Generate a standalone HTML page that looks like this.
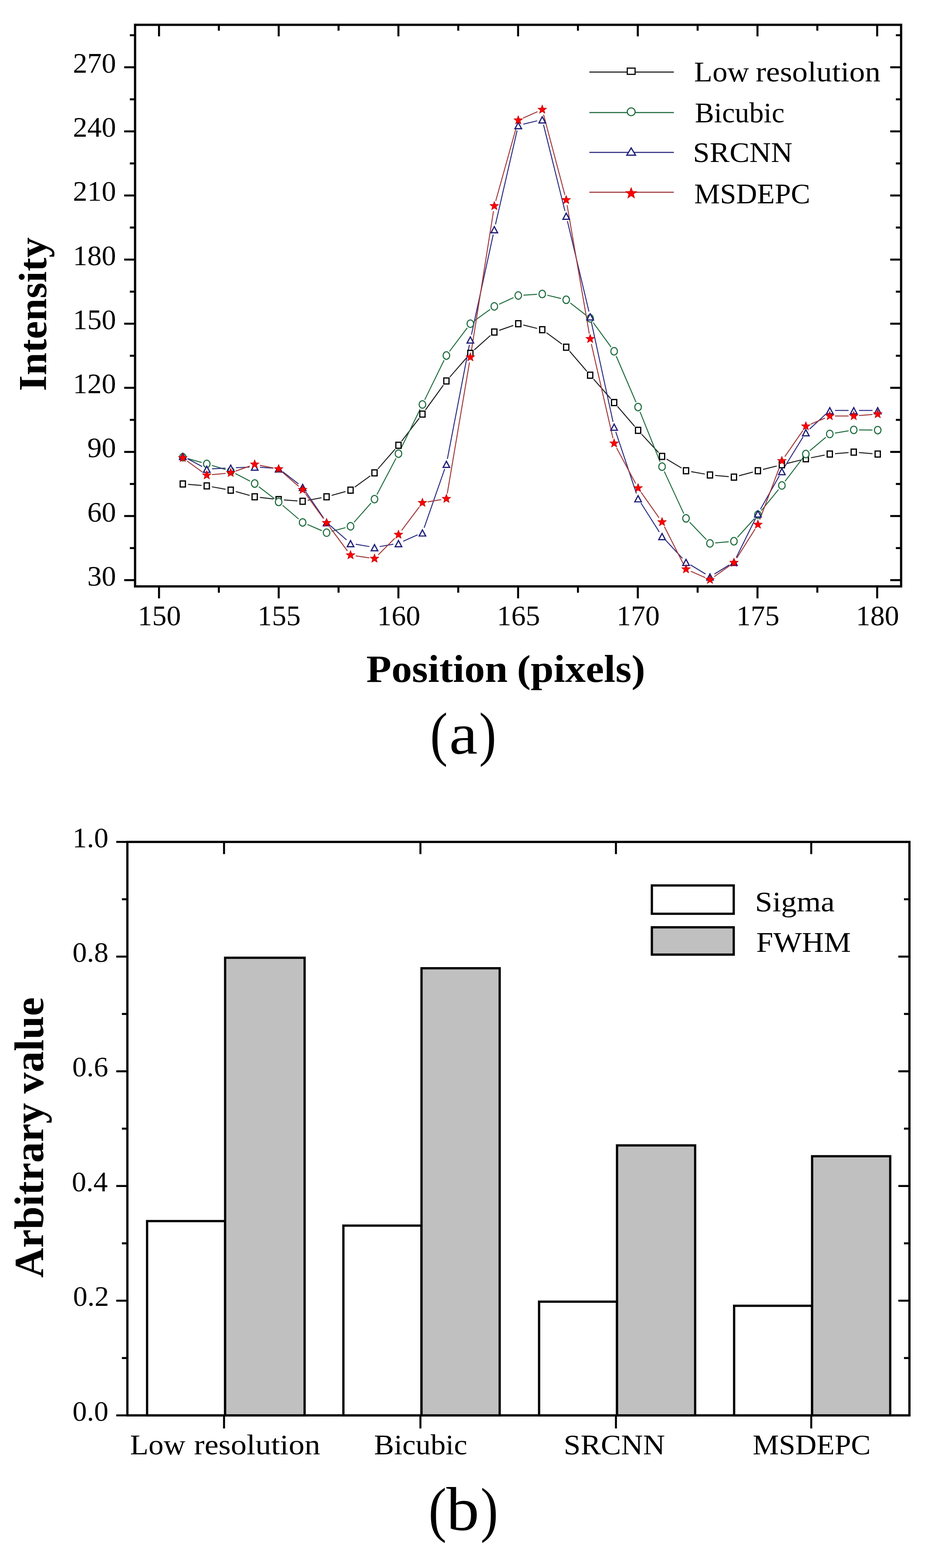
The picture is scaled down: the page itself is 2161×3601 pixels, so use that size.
<!DOCTYPE html>
<html><head><meta charset="utf-8"><title>Figure</title>
<style>html,body{margin:0;padding:0;background:#fff;}svg{display:block;}</style>
</head><body>
<svg width="2161" height="3601" viewBox="0 0 2161 3601">
<rect width="2161" height="3601" fill="#fff"/>
<g fill="none" stroke="#000">
<rect x="310.20" y="57.00" width="1759.20" height="1289.70" stroke-width="5.20" stroke-linejoin="miter"/>
</g>
<line x1="365.18" y1="1346.70" x2="365.18" y2="1374.20" stroke="#000" stroke-width="4.60"/>
<line x1="365.18" y1="57.00" x2="365.18" y2="83.50" stroke="#000" stroke-width="4.60"/>
<line x1="502.61" y1="1346.70" x2="502.61" y2="1361.20" stroke="#000" stroke-width="4.60"/>
<line x1="502.61" y1="57.00" x2="502.61" y2="70.50" stroke="#000" stroke-width="4.60"/>
<line x1="640.05" y1="1346.70" x2="640.05" y2="1374.20" stroke="#000" stroke-width="4.60"/>
<line x1="640.05" y1="57.00" x2="640.05" y2="83.50" stroke="#000" stroke-width="4.60"/>
<line x1="777.49" y1="1346.70" x2="777.49" y2="1361.20" stroke="#000" stroke-width="4.60"/>
<line x1="777.49" y1="57.00" x2="777.49" y2="70.50" stroke="#000" stroke-width="4.60"/>
<line x1="914.92" y1="1346.70" x2="914.92" y2="1374.20" stroke="#000" stroke-width="4.60"/>
<line x1="914.92" y1="57.00" x2="914.92" y2="83.50" stroke="#000" stroke-width="4.60"/>
<line x1="1052.36" y1="1346.70" x2="1052.36" y2="1361.20" stroke="#000" stroke-width="4.60"/>
<line x1="1052.36" y1="57.00" x2="1052.36" y2="70.50" stroke="#000" stroke-width="4.60"/>
<line x1="1189.80" y1="1346.70" x2="1189.80" y2="1374.20" stroke="#000" stroke-width="4.60"/>
<line x1="1189.80" y1="57.00" x2="1189.80" y2="83.50" stroke="#000" stroke-width="4.60"/>
<line x1="1327.24" y1="1346.70" x2="1327.24" y2="1361.20" stroke="#000" stroke-width="4.60"/>
<line x1="1327.24" y1="57.00" x2="1327.24" y2="70.50" stroke="#000" stroke-width="4.60"/>
<line x1="1464.68" y1="1346.70" x2="1464.68" y2="1374.20" stroke="#000" stroke-width="4.60"/>
<line x1="1464.68" y1="57.00" x2="1464.68" y2="83.50" stroke="#000" stroke-width="4.60"/>
<line x1="1602.11" y1="1346.70" x2="1602.11" y2="1361.20" stroke="#000" stroke-width="4.60"/>
<line x1="1602.11" y1="57.00" x2="1602.11" y2="70.50" stroke="#000" stroke-width="4.60"/>
<line x1="1739.55" y1="1346.70" x2="1739.55" y2="1374.20" stroke="#000" stroke-width="4.60"/>
<line x1="1739.55" y1="57.00" x2="1739.55" y2="83.50" stroke="#000" stroke-width="4.60"/>
<line x1="1876.99" y1="1346.70" x2="1876.99" y2="1361.20" stroke="#000" stroke-width="4.60"/>
<line x1="1876.99" y1="57.00" x2="1876.99" y2="70.50" stroke="#000" stroke-width="4.60"/>
<line x1="2014.43" y1="1346.70" x2="2014.43" y2="1374.20" stroke="#000" stroke-width="4.60"/>
<line x1="2014.43" y1="57.00" x2="2014.43" y2="83.50" stroke="#000" stroke-width="4.60"/>
<line x1="310.20" y1="1332.30" x2="285.20" y2="1332.30" stroke="#000" stroke-width="4.60"/>
<line x1="2069.40" y1="1332.30" x2="2044.40" y2="1332.30" stroke="#000" stroke-width="4.60"/>
<line x1="310.20" y1="1258.69" x2="298.20" y2="1258.69" stroke="#000" stroke-width="4.60"/>
<line x1="2069.40" y1="1258.69" x2="2057.40" y2="1258.69" stroke="#000" stroke-width="4.60"/>
<line x1="310.20" y1="1185.08" x2="285.20" y2="1185.08" stroke="#000" stroke-width="4.60"/>
<line x1="2069.40" y1="1185.08" x2="2044.40" y2="1185.08" stroke="#000" stroke-width="4.60"/>
<line x1="310.20" y1="1111.46" x2="298.20" y2="1111.46" stroke="#000" stroke-width="4.60"/>
<line x1="2069.40" y1="1111.46" x2="2057.40" y2="1111.46" stroke="#000" stroke-width="4.60"/>
<line x1="310.20" y1="1037.85" x2="285.20" y2="1037.85" stroke="#000" stroke-width="4.60"/>
<line x1="2069.40" y1="1037.85" x2="2044.40" y2="1037.85" stroke="#000" stroke-width="4.60"/>
<line x1="310.20" y1="964.24" x2="298.20" y2="964.24" stroke="#000" stroke-width="4.60"/>
<line x1="2069.40" y1="964.24" x2="2057.40" y2="964.24" stroke="#000" stroke-width="4.60"/>
<line x1="310.20" y1="890.62" x2="285.20" y2="890.62" stroke="#000" stroke-width="4.60"/>
<line x1="2069.40" y1="890.62" x2="2044.40" y2="890.62" stroke="#000" stroke-width="4.60"/>
<line x1="310.20" y1="817.01" x2="298.20" y2="817.01" stroke="#000" stroke-width="4.60"/>
<line x1="2069.40" y1="817.01" x2="2057.40" y2="817.01" stroke="#000" stroke-width="4.60"/>
<line x1="310.20" y1="743.40" x2="285.20" y2="743.40" stroke="#000" stroke-width="4.60"/>
<line x1="2069.40" y1="743.40" x2="2044.40" y2="743.40" stroke="#000" stroke-width="4.60"/>
<line x1="310.20" y1="669.79" x2="298.20" y2="669.79" stroke="#000" stroke-width="4.60"/>
<line x1="2069.40" y1="669.79" x2="2057.40" y2="669.79" stroke="#000" stroke-width="4.60"/>
<line x1="310.20" y1="596.17" x2="285.20" y2="596.17" stroke="#000" stroke-width="4.60"/>
<line x1="2069.40" y1="596.17" x2="2044.40" y2="596.17" stroke="#000" stroke-width="4.60"/>
<line x1="310.20" y1="522.56" x2="298.20" y2="522.56" stroke="#000" stroke-width="4.60"/>
<line x1="2069.40" y1="522.56" x2="2057.40" y2="522.56" stroke="#000" stroke-width="4.60"/>
<line x1="310.20" y1="448.95" x2="285.20" y2="448.95" stroke="#000" stroke-width="4.60"/>
<line x1="2069.40" y1="448.95" x2="2044.40" y2="448.95" stroke="#000" stroke-width="4.60"/>
<line x1="310.20" y1="375.34" x2="298.20" y2="375.34" stroke="#000" stroke-width="4.60"/>
<line x1="2069.40" y1="375.34" x2="2057.40" y2="375.34" stroke="#000" stroke-width="4.60"/>
<line x1="310.20" y1="301.73" x2="285.20" y2="301.73" stroke="#000" stroke-width="4.60"/>
<line x1="2069.40" y1="301.73" x2="2044.40" y2="301.73" stroke="#000" stroke-width="4.60"/>
<line x1="310.20" y1="228.11" x2="298.20" y2="228.11" stroke="#000" stroke-width="4.60"/>
<line x1="2069.40" y1="228.11" x2="2057.40" y2="228.11" stroke="#000" stroke-width="4.60"/>
<line x1="310.20" y1="154.50" x2="285.20" y2="154.50" stroke="#000" stroke-width="4.60"/>
<line x1="2069.40" y1="154.50" x2="2044.40" y2="154.50" stroke="#000" stroke-width="4.60"/>
<line x1="310.20" y1="80.89" x2="298.20" y2="80.89" stroke="#000" stroke-width="4.60"/>
<line x1="2069.40" y1="80.89" x2="2057.40" y2="80.89" stroke="#000" stroke-width="4.60"/>
<g font-family='"Liberation Serif", "Times New Roman", serif'>
<g>
<text x="200.51" y="1344.80" font-size="66.00" fill="#000">30</text>
<text x="200.51" y="1197.58" font-size="66.00" fill="#000">60</text>
<text x="200.51" y="1050.35" font-size="66.00" fill="#000">90</text>
<text x="167.51" y="903.12" font-size="66.00" fill="#000">120</text>
<text x="167.51" y="755.90" font-size="66.00" fill="#000">150</text>
<text x="167.51" y="608.67" font-size="66.00" fill="#000">180</text>
<text x="167.51" y="461.45" font-size="66.00" fill="#000">210</text>
<text x="167.51" y="314.23" font-size="66.00" fill="#000">240</text>
<text x="167.51" y="167.00" font-size="66.00" fill="#000">270</text>
<text x="316.53" y="1435.60" font-size="66.00" fill="#000">150</text>
<text x="591.44" y="1435.60" font-size="66.00" fill="#000">155</text>
<text x="866.28" y="1435.60" font-size="66.00" fill="#000">160</text>
<text x="1141.19" y="1435.60" font-size="66.00" fill="#000">165</text>
<text x="1416.03" y="1435.60" font-size="66.00" fill="#000">170</text>
<text x="1690.94" y="1435.60" font-size="66.00" fill="#000">175</text>
<text x="1965.78" y="1435.60" font-size="66.00" fill="#000">180</text>
</g>
<text transform="translate(105.80,895.00) rotate(-90)" x="-3.15" y="0" font-size="90.80" font-weight="bold" textLength="353.06" lengthAdjust="spacingAndGlyphs">Intensity</text>
<text x="841.39" y="1565.70" font-size="88.60" font-weight="bold" textLength="324.64" lengthAdjust="spacingAndGlyphs" fill="#000">Position</text>
<text x="1187.34" y="1565.70" font-size="88.60" font-weight="bold" textLength="294.42" lengthAdjust="spacingAndGlyphs" fill="#000">(pixels)</text>
<text x="987.68" y="1732.03" font-size="138.41" textLength="40.32" lengthAdjust="spacingAndGlyphs">(</text>
<text x="1031.63" y="1730.70" font-size="133.61" textLength="65.28" lengthAdjust="spacingAndGlyphs">a</text>
<text x="1100.29" y="1732.03" font-size="138.41" textLength="39.42" lengthAdjust="spacingAndGlyphs">)</text>
</g>
<path d="M431.76 1112.42L462.87 1114.92M486.64 1117.99L518.05 1123.59M541.43 1128.89L573.32 1137.71M596.81 1142.29L628.00 1145.91M651.89 1148.14L682.98 1150.36M706.74 1149.00L738.19 1143.12M761.55 1137.71L793.44 1128.89M814.74 1118.67L850.31 1092.97M867.91 1076.89L907.20 1031.69M922.38 1013.12L962.79 960.50M977.13 941.26L1018.10 884.64M1033.00 865.86L1072.29 820.67M1089.12 803.63L1126.23 770.53M1146.52 758.60L1178.89 747.34M1201.86 746.31L1233.61 754.23M1254.94 764.22L1290.59 790.30M1308.08 806.50L1347.51 852.55M1363.22 870.70L1402.43 915.46M1418.18 933.57L1457.53 979.20M1473.49 997.12L1512.28 1039.32M1530.70 1054.31L1565.13 1074.88M1587.24 1083.14L1618.65 1088.74M1642.41 1091.92L1673.54 1094.69M1697.08 1092.66L1728.93 1084.14M1752.16 1078.13L1783.91 1070.20M1807.19 1064.39L1838.94 1056.46M1862.36 1051.24L1893.83 1045.07M1917.57 1041.80L1948.68 1039.30M1972.60 1039.30L2003.71 1041.80" fill="none" stroke="#1a1a1a" stroke-width="2.20" stroke-linecap="butt"/>
<path d="M431.37 1053.32L463.26 1062.13M486.31 1068.81L518.38 1078.54M540.52 1087.53L574.23 1104.97M594.41 1117.78L630.40 1145.38M649.04 1160.49L685.83 1191.99M705.98 1204.52L738.95 1218.63M761.57 1220.25L793.42 1211.73M812.95 1199.64L852.10 1155.30M865.63 1135.69L909.48 1052.39M920.33 1030.99L964.84 939.69M975.38 918.13L1019.85 827.30M1032.35 806.93L1072.94 752.99M1089.89 736.37L1125.46 710.68M1146.11 698.68L1179.30 683.59M1202.20 677.87L1233.27 675.93M1256.92 677.99L1288.61 685.63M1309.76 695.79L1345.83 723.78M1362.37 740.83L1403.28 797.01M1415.08 817.73L1460.63 923.77M1469.85 945.93L1515.92 1060.58M1525.45 1082.60L1570.38 1179.59M1583.73 1199.14L1622.16 1239.23M1642.41 1246.83L1673.54 1244.05M1693.54 1234.08L1732.47 1191.03M1748.12 1172.84L1787.95 1124.18M1802.83 1105.36L1843.30 1052.30M1859.78 1035.05L1896.41 1004.34M1917.44 994.62L1948.81 989.31M1972.64 987.41L2003.67 987.69" fill="none" stroke="#1d6b3c" stroke-width="2.20" stroke-linecap="butt"/>
<path d="M430.38 1053.33L464.25 1071.45M486.82 1076.58L517.87 1075.19M541.85 1074.12L572.90 1072.74M596.86 1073.06L627.95 1075.27M649.40 1083.48L685.47 1111.47M701.70 1128.75L743.23 1189.87M759.02 1207.69L795.97 1239.99M816.84 1249.90L848.21 1255.21M871.87 1255.21L903.24 1249.90M926.03 1243.00L959.14 1228.24M974.06 1212.02L1021.17 1077.15M1027.40 1054.04L1077.89 791.99M1082.71 768.48L1132.64 538.71M1137.88 515.29L1187.53 299.68M1201.89 285.17L1233.58 277.54M1248.15 286.38L1297.38 484.42M1303.06 507.74L1352.53 715.53M1357.86 738.93L1407.79 968.71M1414.15 991.81L1461.56 1133.45M1471.79 1154.97L1513.98 1221.56M1528.56 1240.50L1567.27 1282.28M1585.69 1297.30L1620.20 1318.23M1640.72 1318.23L1675.23 1297.30M1690.80 1280.32L1735.21 1190.44M1746.43 1169.24L1789.64 1092.95M1801.84 1072.29L1844.29 1003.41M1859.42 985.07L1896.77 950.76M1917.61 942.64L1948.64 942.64M1972.64 942.64L2003.67 942.64" fill="none" stroke="#2a2a80" stroke-width="2.20" stroke-linecap="butt"/>
<path d="M429.53 1058.62L465.10 1084.32M486.77 1090.17L517.92 1087.12M541.16 1081.91L573.59 1070.35M596.67 1068.62L628.14 1074.80M649.00 1084.96L685.87 1116.86M701.98 1134.44L742.95 1191.06M757.13 1210.41L797.86 1265.25M816.89 1276.58L848.16 1281.04M868.53 1274.25L906.58 1236.25M922.29 1218.18L962.88 1164.24M981.93 1152.64L1013.30 1147.33M1027.13 1133.49L1078.16 832.28M1082.04 808.60L1133.31 484.85M1138.42 461.44L1186.99 287.76M1201.18 271.32L1234.29 256.56M1248.32 263.27L1297.21 447.66M1302.32 471.08L1353.27 766.42M1357.99 789.94L1407.66 1006.52M1416.01 1028.79L1459.70 1110.21M1472.29 1130.59L1513.48 1189.01M1525.83 1209.52L1570.00 1296.57M1586.43 1312.08L1619.46 1326.51M1640.23 1324.35L1675.72 1299.03M1691.89 1281.91L1734.12 1214.86M1744.75 1193.47L1791.32 1069.69M1802.38 1048.59L1843.75 988.83M1861.61 974.24L1894.58 960.13M1917.61 955.40L1948.64 955.40M1972.60 954.44L2003.71 951.95" fill="none" stroke="#a03838" stroke-width="2.20" stroke-linecap="butt"/>
<rect x="413.80" y="1104.56" width="12.00" height="13.80" fill="#fff" stroke="#000000" stroke-width="2.80"/>
<rect x="468.83" y="1108.98" width="12.00" height="13.80" fill="#fff" stroke="#000000" stroke-width="2.80"/>
<rect x="523.86" y="1118.79" width="12.00" height="13.80" fill="#fff" stroke="#000000" stroke-width="2.80"/>
<rect x="578.89" y="1134.01" width="12.00" height="13.80" fill="#fff" stroke="#000000" stroke-width="2.80"/>
<rect x="633.92" y="1140.39" width="12.00" height="13.80" fill="#fff" stroke="#000000" stroke-width="2.80"/>
<rect x="688.95" y="1144.31" width="12.00" height="13.80" fill="#fff" stroke="#000000" stroke-width="2.80"/>
<rect x="743.98" y="1134.01" width="12.00" height="13.80" fill="#fff" stroke="#000000" stroke-width="2.80"/>
<rect x="799.01" y="1118.79" width="12.00" height="13.80" fill="#fff" stroke="#000000" stroke-width="2.80"/>
<rect x="854.04" y="1079.04" width="12.00" height="13.80" fill="#fff" stroke="#000000" stroke-width="2.80"/>
<rect x="909.07" y="1015.74" width="12.00" height="13.80" fill="#fff" stroke="#000000" stroke-width="2.80"/>
<rect x="964.10" y="944.09" width="12.00" height="13.80" fill="#fff" stroke="#000000" stroke-width="2.80"/>
<rect x="1019.13" y="868.02" width="12.00" height="13.80" fill="#fff" stroke="#000000" stroke-width="2.80"/>
<rect x="1074.16" y="804.71" width="12.00" height="13.80" fill="#fff" stroke="#000000" stroke-width="2.80"/>
<rect x="1129.19" y="755.64" width="12.00" height="13.80" fill="#fff" stroke="#000000" stroke-width="2.80"/>
<rect x="1184.22" y="736.50" width="12.00" height="13.80" fill="#fff" stroke="#000000" stroke-width="2.80"/>
<rect x="1239.25" y="750.24" width="12.00" height="13.80" fill="#fff" stroke="#000000" stroke-width="2.80"/>
<rect x="1294.28" y="790.48" width="12.00" height="13.80" fill="#fff" stroke="#000000" stroke-width="2.80"/>
<rect x="1349.31" y="854.77" width="12.00" height="13.80" fill="#fff" stroke="#000000" stroke-width="2.80"/>
<rect x="1404.34" y="917.59" width="12.00" height="13.80" fill="#fff" stroke="#000000" stroke-width="2.80"/>
<rect x="1459.37" y="981.38" width="12.00" height="13.80" fill="#fff" stroke="#000000" stroke-width="2.80"/>
<rect x="1514.40" y="1041.26" width="12.00" height="13.80" fill="#fff" stroke="#000000" stroke-width="2.80"/>
<rect x="1569.43" y="1074.14" width="12.00" height="13.80" fill="#fff" stroke="#000000" stroke-width="2.80"/>
<rect x="1624.46" y="1083.95" width="12.00" height="13.80" fill="#fff" stroke="#000000" stroke-width="2.80"/>
<rect x="1679.49" y="1088.86" width="12.00" height="13.80" fill="#fff" stroke="#000000" stroke-width="2.80"/>
<rect x="1734.52" y="1074.14" width="12.00" height="13.80" fill="#fff" stroke="#000000" stroke-width="2.80"/>
<rect x="1789.55" y="1060.40" width="12.00" height="13.80" fill="#fff" stroke="#000000" stroke-width="2.80"/>
<rect x="1844.58" y="1046.65" width="12.00" height="13.80" fill="#fff" stroke="#000000" stroke-width="2.80"/>
<rect x="1899.61" y="1035.86" width="12.00" height="13.80" fill="#fff" stroke="#000000" stroke-width="2.80"/>
<rect x="1954.64" y="1031.44" width="12.00" height="13.80" fill="#fff" stroke="#000000" stroke-width="2.80"/>
<rect x="2009.67" y="1035.86" width="12.00" height="13.80" fill="#fff" stroke="#000000" stroke-width="2.80"/>
<ellipse cx="419.80" cy="1050.12" rx="7.55" ry="8.65" fill="#fff" stroke="#1d6b3c" stroke-width="2.50"/>
<ellipse cx="474.83" cy="1065.33" rx="7.55" ry="8.65" fill="#fff" stroke="#1d6b3c" stroke-width="2.50"/>
<ellipse cx="529.86" cy="1082.02" rx="7.55" ry="8.65" fill="#fff" stroke="#1d6b3c" stroke-width="2.50"/>
<ellipse cx="584.89" cy="1110.48" rx="7.55" ry="8.65" fill="#fff" stroke="#1d6b3c" stroke-width="2.50"/>
<ellipse cx="639.92" cy="1152.69" rx="7.55" ry="8.65" fill="#fff" stroke="#1d6b3c" stroke-width="2.50"/>
<ellipse cx="694.95" cy="1199.80" rx="7.55" ry="8.65" fill="#fff" stroke="#1d6b3c" stroke-width="2.50"/>
<ellipse cx="749.98" cy="1223.35" rx="7.55" ry="8.65" fill="#fff" stroke="#1d6b3c" stroke-width="2.50"/>
<ellipse cx="805.01" cy="1208.63" rx="7.55" ry="8.65" fill="#fff" stroke="#1d6b3c" stroke-width="2.50"/>
<ellipse cx="860.04" cy="1146.31" rx="7.55" ry="8.65" fill="#fff" stroke="#1d6b3c" stroke-width="2.50"/>
<ellipse cx="915.07" cy="1041.78" rx="7.55" ry="8.65" fill="#fff" stroke="#1d6b3c" stroke-width="2.50"/>
<ellipse cx="970.10" cy="928.90" rx="7.55" ry="8.65" fill="#fff" stroke="#1d6b3c" stroke-width="2.50"/>
<ellipse cx="1025.13" cy="816.52" rx="7.55" ry="8.65" fill="#fff" stroke="#1d6b3c" stroke-width="2.50"/>
<ellipse cx="1080.16" cy="743.40" rx="7.55" ry="8.65" fill="#fff" stroke="#1d6b3c" stroke-width="2.50"/>
<ellipse cx="1135.19" cy="703.65" rx="7.55" ry="8.65" fill="#fff" stroke="#1d6b3c" stroke-width="2.50"/>
<ellipse cx="1190.22" cy="678.62" rx="7.55" ry="8.65" fill="#fff" stroke="#1d6b3c" stroke-width="2.50"/>
<ellipse cx="1245.25" cy="675.19" rx="7.55" ry="8.65" fill="#fff" stroke="#1d6b3c" stroke-width="2.50"/>
<ellipse cx="1300.28" cy="688.44" rx="7.55" ry="8.65" fill="#fff" stroke="#1d6b3c" stroke-width="2.50"/>
<ellipse cx="1355.31" cy="731.13" rx="7.55" ry="8.65" fill="#fff" stroke="#1d6b3c" stroke-width="2.50"/>
<ellipse cx="1410.34" cy="806.71" rx="7.55" ry="8.65" fill="#fff" stroke="#1d6b3c" stroke-width="2.50"/>
<ellipse cx="1465.37" cy="934.79" rx="7.55" ry="8.65" fill="#fff" stroke="#1d6b3c" stroke-width="2.50"/>
<ellipse cx="1520.40" cy="1071.71" rx="7.55" ry="8.65" fill="#fff" stroke="#1d6b3c" stroke-width="2.50"/>
<ellipse cx="1575.43" cy="1190.47" rx="7.55" ry="8.65" fill="#fff" stroke="#1d6b3c" stroke-width="2.50"/>
<ellipse cx="1630.46" cy="1247.89" rx="7.55" ry="8.65" fill="#fff" stroke="#1d6b3c" stroke-width="2.50"/>
<ellipse cx="1685.49" cy="1242.98" rx="7.55" ry="8.65" fill="#fff" stroke="#1d6b3c" stroke-width="2.50"/>
<ellipse cx="1740.52" cy="1182.13" rx="7.55" ry="8.65" fill="#fff" stroke="#1d6b3c" stroke-width="2.50"/>
<ellipse cx="1795.55" cy="1114.90" rx="7.55" ry="8.65" fill="#fff" stroke="#1d6b3c" stroke-width="2.50"/>
<ellipse cx="1850.58" cy="1042.76" rx="7.55" ry="8.65" fill="#fff" stroke="#1d6b3c" stroke-width="2.50"/>
<ellipse cx="1905.61" cy="996.63" rx="7.55" ry="8.65" fill="#fff" stroke="#1d6b3c" stroke-width="2.50"/>
<ellipse cx="1960.64" cy="987.30" rx="7.55" ry="8.65" fill="#fff" stroke="#1d6b3c" stroke-width="2.50"/>
<ellipse cx="2015.67" cy="987.79" rx="7.55" ry="8.65" fill="#fff" stroke="#1d6b3c" stroke-width="2.50"/>
<path d="M419.80 1041.10L427.39 1055.32L412.21 1055.32Z" fill="#fff" stroke="#1c1c78" stroke-width="2.70" stroke-linejoin="miter"/>
<path d="M474.83 1070.54L482.42 1084.76L467.24 1084.76Z" fill="#fff" stroke="#1c1c78" stroke-width="2.70" stroke-linejoin="miter"/>
<path d="M529.86 1068.09L537.45 1082.31L522.27 1082.31Z" fill="#fff" stroke="#1c1c78" stroke-width="2.70" stroke-linejoin="miter"/>
<path d="M584.89 1065.63L592.48 1079.85L577.30 1079.85Z" fill="#fff" stroke="#1c1c78" stroke-width="2.70" stroke-linejoin="miter"/>
<path d="M639.92 1069.56L647.51 1083.78L632.33 1083.78Z" fill="#fff" stroke="#1c1c78" stroke-width="2.70" stroke-linejoin="miter"/>
<path d="M694.95 1112.25L702.54 1126.47L687.36 1126.47Z" fill="#fff" stroke="#1c1c78" stroke-width="2.70" stroke-linejoin="miter"/>
<path d="M749.98 1193.23L757.57 1207.45L742.39 1207.45Z" fill="#fff" stroke="#1c1c78" stroke-width="2.70" stroke-linejoin="miter"/>
<path d="M805.01 1241.32L812.60 1255.54L797.42 1255.54Z" fill="#fff" stroke="#1c1c78" stroke-width="2.70" stroke-linejoin="miter"/>
<path d="M860.04 1250.65L867.63 1264.87L852.45 1264.87Z" fill="#fff" stroke="#1c1c78" stroke-width="2.70" stroke-linejoin="miter"/>
<path d="M915.07 1241.32L922.66 1255.54L907.48 1255.54Z" fill="#fff" stroke="#1c1c78" stroke-width="2.70" stroke-linejoin="miter"/>
<path d="M970.10 1216.78L977.69 1231.00L962.51 1231.00Z" fill="#fff" stroke="#1c1c78" stroke-width="2.70" stroke-linejoin="miter"/>
<path d="M1025.13 1059.25L1032.72 1073.47L1017.54 1073.47Z" fill="#fff" stroke="#1c1c78" stroke-width="2.70" stroke-linejoin="miter"/>
<path d="M1080.16 773.64L1087.75 787.86L1072.57 787.86Z" fill="#fff" stroke="#1c1c78" stroke-width="2.70" stroke-linejoin="miter"/>
<path d="M1135.19 520.41L1142.78 534.63L1127.60 534.63Z" fill="#fff" stroke="#1c1c78" stroke-width="2.70" stroke-linejoin="miter"/>
<path d="M1190.22 281.41L1197.81 295.63L1182.63 295.63Z" fill="#fff" stroke="#1c1c78" stroke-width="2.70" stroke-linejoin="miter"/>
<path d="M1245.25 268.16L1252.84 282.38L1237.66 282.38Z" fill="#fff" stroke="#1c1c78" stroke-width="2.70" stroke-linejoin="miter"/>
<path d="M1300.28 489.49L1307.87 503.71L1292.69 503.71Z" fill="#fff" stroke="#1c1c78" stroke-width="2.70" stroke-linejoin="miter"/>
<path d="M1355.31 720.64L1362.90 734.86L1347.72 734.86Z" fill="#fff" stroke="#1c1c78" stroke-width="2.70" stroke-linejoin="miter"/>
<path d="M1410.34 973.86L1417.93 988.08L1402.75 988.08Z" fill="#fff" stroke="#1c1c78" stroke-width="2.70" stroke-linejoin="miter"/>
<path d="M1465.37 1138.26L1472.96 1152.48L1457.78 1152.48Z" fill="#fff" stroke="#1c1c78" stroke-width="2.70" stroke-linejoin="miter"/>
<path d="M1520.40 1225.13L1527.99 1239.35L1512.81 1239.35Z" fill="#fff" stroke="#1c1c78" stroke-width="2.70" stroke-linejoin="miter"/>
<path d="M1575.43 1284.51L1583.02 1298.73L1567.84 1298.73Z" fill="#fff" stroke="#1c1c78" stroke-width="2.70" stroke-linejoin="miter"/>
<path d="M1630.46 1317.88L1638.05 1332.10L1622.87 1332.10Z" fill="#fff" stroke="#1c1c78" stroke-width="2.70" stroke-linejoin="miter"/>
<path d="M1685.49 1284.51L1693.08 1298.73L1677.90 1298.73Z" fill="#fff" stroke="#1c1c78" stroke-width="2.70" stroke-linejoin="miter"/>
<path d="M1740.52 1173.11L1748.11 1187.33L1732.93 1187.33Z" fill="#fff" stroke="#1c1c78" stroke-width="2.70" stroke-linejoin="miter"/>
<path d="M1795.55 1075.94L1803.14 1090.16L1787.96 1090.16Z" fill="#fff" stroke="#1c1c78" stroke-width="2.70" stroke-linejoin="miter"/>
<path d="M1850.58 986.62L1858.17 1000.84L1842.99 1000.84Z" fill="#fff" stroke="#1c1c78" stroke-width="2.70" stroke-linejoin="miter"/>
<path d="M1905.61 936.07L1913.20 950.29L1898.02 950.29Z" fill="#fff" stroke="#1c1c78" stroke-width="2.70" stroke-linejoin="miter"/>
<path d="M1960.64 936.07L1968.23 950.29L1953.05 950.29Z" fill="#fff" stroke="#1c1c78" stroke-width="2.70" stroke-linejoin="miter"/>
<path d="M2015.67 936.07L2023.26 950.29L2008.08 950.29Z" fill="#fff" stroke="#1c1c78" stroke-width="2.70" stroke-linejoin="miter"/>
<path d="M419.80 1041.39L422.39 1048.03L429.50 1048.44L423.98 1052.95L425.80 1059.84L419.80 1055.99L413.80 1059.84L415.62 1052.95L410.10 1048.44L417.21 1048.03Z" fill="#ff0000" stroke="#c00000" stroke-width="1.2" stroke-linejoin="miter"/>
<path d="M474.83 1081.14L477.42 1087.78L484.53 1088.19L479.01 1092.70L480.83 1099.59L474.83 1095.74L468.83 1099.59L470.65 1092.70L465.13 1088.19L472.24 1087.78Z" fill="#ff0000" stroke="#c00000" stroke-width="1.2" stroke-linejoin="miter"/>
<path d="M529.86 1075.74L532.45 1082.38L539.56 1082.79L534.04 1087.30L535.86 1094.20L529.86 1090.34L523.86 1094.20L525.68 1087.30L520.16 1082.79L527.27 1082.38Z" fill="#ff0000" stroke="#c00000" stroke-width="1.2" stroke-linejoin="miter"/>
<path d="M584.89 1056.11L587.48 1062.75L594.59 1063.16L589.07 1067.67L590.89 1074.57L584.89 1070.71L578.89 1074.57L580.71 1067.67L575.19 1063.16L582.30 1062.75Z" fill="#ff0000" stroke="#c00000" stroke-width="1.2" stroke-linejoin="miter"/>
<path d="M639.92 1066.91L642.51 1073.55L649.62 1073.96L644.10 1078.47L645.92 1085.36L639.92 1081.51L633.92 1085.36L635.74 1078.47L630.22 1073.96L637.33 1073.55Z" fill="#ff0000" stroke="#c00000" stroke-width="1.2" stroke-linejoin="miter"/>
<path d="M694.95 1114.51L697.54 1121.15L704.65 1121.56L699.13 1126.07L700.95 1132.96L694.95 1129.11L688.95 1132.96L690.77 1126.07L685.25 1121.56L692.36 1121.15Z" fill="#ff0000" stroke="#c00000" stroke-width="1.2" stroke-linejoin="miter"/>
<path d="M749.98 1190.58L752.57 1197.22L759.68 1197.63L754.16 1202.14L755.98 1209.03L749.98 1205.18L743.98 1209.03L745.80 1202.14L740.28 1197.63L747.39 1197.22Z" fill="#ff0000" stroke="#c00000" stroke-width="1.2" stroke-linejoin="miter"/>
<path d="M805.01 1264.68L807.60 1271.32L814.71 1271.73L809.19 1276.24L811.01 1283.13L805.01 1279.28L799.01 1283.13L800.83 1276.24L795.31 1271.73L802.42 1271.32Z" fill="#ff0000" stroke="#c00000" stroke-width="1.2" stroke-linejoin="miter"/>
<path d="M860.04 1272.53L862.63 1279.17L869.74 1279.58L864.22 1284.09L866.04 1290.99L860.04 1287.13L854.04 1290.99L855.86 1284.09L850.34 1279.58L857.45 1279.17Z" fill="#ff0000" stroke="#c00000" stroke-width="1.2" stroke-linejoin="miter"/>
<path d="M915.07 1217.57L917.66 1224.21L924.77 1224.62L919.25 1229.13L921.07 1236.02L915.07 1232.17L909.07 1236.02L910.89 1229.13L905.37 1224.62L912.48 1224.21Z" fill="#ff0000" stroke="#c00000" stroke-width="1.2" stroke-linejoin="miter"/>
<path d="M970.10 1144.45L972.69 1151.09L979.80 1151.50L974.28 1156.01L976.10 1162.90L970.10 1159.05L964.10 1162.90L965.92 1156.01L960.40 1151.50L967.51 1151.09Z" fill="#ff0000" stroke="#c00000" stroke-width="1.2" stroke-linejoin="miter"/>
<path d="M1025.13 1135.12L1027.72 1141.76L1034.83 1142.17L1029.31 1146.68L1031.13 1153.58L1025.13 1149.72L1019.13 1153.58L1020.95 1146.68L1015.43 1142.17L1022.54 1141.76Z" fill="#ff0000" stroke="#c00000" stroke-width="1.2" stroke-linejoin="miter"/>
<path d="M1080.16 810.25L1082.75 816.89L1089.86 817.30L1084.34 821.81L1086.16 828.70L1080.16 824.85L1074.16 828.70L1075.98 821.81L1070.46 817.30L1077.57 816.89Z" fill="#ff0000" stroke="#c00000" stroke-width="1.2" stroke-linejoin="miter"/>
<path d="M1135.19 462.80L1137.78 469.44L1144.89 469.84L1139.37 474.36L1141.19 481.25L1135.19 477.40L1129.19 481.25L1131.01 474.36L1125.49 469.84L1132.60 469.44Z" fill="#ff0000" stroke="#c00000" stroke-width="1.2" stroke-linejoin="miter"/>
<path d="M1190.22 266.01L1192.81 272.65L1199.92 273.05L1194.40 277.57L1196.22 284.46L1190.22 280.61L1184.22 284.46L1186.04 277.57L1180.52 273.05L1187.63 272.65Z" fill="#ff0000" stroke="#c00000" stroke-width="1.2" stroke-linejoin="miter"/>
<path d="M1245.25 241.47L1247.84 248.11L1254.95 248.52L1249.43 253.03L1251.25 259.92L1245.25 256.07L1239.25 259.92L1241.07 253.03L1235.55 248.52L1242.66 248.11Z" fill="#ff0000" stroke="#c00000" stroke-width="1.2" stroke-linejoin="miter"/>
<path d="M1300.28 449.06L1302.87 455.70L1309.98 456.10L1304.46 460.62L1306.28 467.51L1300.28 463.66L1294.28 467.51L1296.10 460.62L1290.58 456.10L1297.69 455.70Z" fill="#ff0000" stroke="#c00000" stroke-width="1.2" stroke-linejoin="miter"/>
<path d="M1355.31 768.04L1357.90 774.68L1365.01 775.09L1359.49 779.60L1361.31 786.50L1355.31 782.64L1349.31 786.50L1351.13 779.60L1345.61 775.09L1352.72 774.68Z" fill="#ff0000" stroke="#c00000" stroke-width="1.2" stroke-linejoin="miter"/>
<path d="M1410.34 1008.02L1412.93 1014.66L1420.04 1015.07L1414.52 1019.58L1416.34 1026.47L1410.34 1022.62L1404.34 1026.47L1406.16 1019.58L1400.64 1015.07L1407.75 1014.66Z" fill="#ff0000" stroke="#c00000" stroke-width="1.2" stroke-linejoin="miter"/>
<path d="M1465.37 1110.59L1467.96 1117.23L1475.07 1117.63L1469.55 1122.15L1471.37 1129.04L1465.37 1125.19L1459.37 1129.04L1461.19 1122.15L1455.67 1117.63L1462.78 1117.23Z" fill="#ff0000" stroke="#c00000" stroke-width="1.2" stroke-linejoin="miter"/>
<path d="M1520.40 1188.62L1522.99 1195.26L1530.10 1195.66L1524.58 1200.18L1526.40 1207.07L1520.40 1203.22L1514.40 1207.07L1516.22 1200.18L1510.70 1195.66L1517.81 1195.26Z" fill="#ff0000" stroke="#c00000" stroke-width="1.2" stroke-linejoin="miter"/>
<path d="M1575.43 1297.07L1578.02 1303.71L1585.13 1304.12L1579.61 1308.63L1581.43 1315.52L1575.43 1311.67L1569.43 1315.52L1571.25 1308.63L1565.73 1304.12L1572.84 1303.71Z" fill="#ff0000" stroke="#c00000" stroke-width="1.2" stroke-linejoin="miter"/>
<path d="M1630.46 1321.12L1633.05 1327.76L1640.16 1328.17L1634.64 1332.68L1636.46 1339.57L1630.46 1335.72L1624.46 1339.57L1626.28 1332.68L1620.76 1328.17L1627.87 1327.76Z" fill="#ff0000" stroke="#c00000" stroke-width="1.2" stroke-linejoin="miter"/>
<path d="M1685.49 1281.86L1688.08 1288.50L1695.19 1288.91L1689.67 1293.42L1691.49 1300.31L1685.49 1296.46L1679.49 1300.31L1681.31 1293.42L1675.79 1288.91L1682.90 1288.50Z" fill="#ff0000" stroke="#c00000" stroke-width="1.2" stroke-linejoin="miter"/>
<path d="M1740.52 1194.50L1743.11 1201.15L1750.22 1201.55L1744.70 1206.06L1746.52 1212.96L1740.52 1209.11L1734.52 1212.96L1736.34 1206.06L1730.82 1201.55L1737.93 1201.15Z" fill="#ff0000" stroke="#c00000" stroke-width="1.2" stroke-linejoin="miter"/>
<path d="M1795.55 1048.26L1798.14 1054.90L1805.25 1055.31L1799.73 1059.82L1801.55 1066.71L1795.55 1062.86L1789.55 1066.71L1791.37 1059.82L1785.85 1055.31L1792.96 1054.90Z" fill="#ff0000" stroke="#c00000" stroke-width="1.2" stroke-linejoin="miter"/>
<path d="M1850.58 968.76L1853.17 975.40L1860.28 975.81L1854.76 980.32L1856.58 987.21L1850.58 983.36L1844.58 987.21L1846.40 980.32L1840.88 975.81L1847.99 975.40Z" fill="#ff0000" stroke="#c00000" stroke-width="1.2" stroke-linejoin="miter"/>
<path d="M1905.61 945.20L1908.20 951.84L1915.31 952.25L1909.79 956.76L1911.61 963.66L1905.61 959.80L1899.61 963.66L1901.43 956.76L1895.91 952.25L1903.02 951.84Z" fill="#ff0000" stroke="#c00000" stroke-width="1.2" stroke-linejoin="miter"/>
<path d="M1960.64 945.20L1963.23 951.84L1970.34 952.25L1964.82 956.76L1966.64 963.66L1960.64 959.80L1954.64 963.66L1956.46 956.76L1950.94 952.25L1958.05 951.84Z" fill="#ff0000" stroke="#c00000" stroke-width="1.2" stroke-linejoin="miter"/>
<path d="M2015.67 940.79L2018.26 947.43L2025.37 947.84L2019.85 952.35L2021.67 959.24L2015.67 955.39L2009.67 959.24L2011.49 952.35L2005.97 947.84L2013.08 947.43Z" fill="#ff0000" stroke="#c00000" stroke-width="1.2" stroke-linejoin="miter"/>
<g font-family='"Liberation Serif", "Times New Roman", serif'>
<line x1="1353.50" y1="165.40" x2="1547.50" y2="165.40" stroke="#1a1a1a" stroke-width="2.50"/>
<rect x="1440.55" y="156.40" width="17.90" height="14.40" fill="#fff" stroke="#000000" stroke-width="2.60"/>
<text x="1594.12" y="187.30" font-size="65.00" textLength="126.19" lengthAdjust="spacingAndGlyphs" fill="#000">Low</text>
<text x="1735.46" y="187.30" font-size="65.00" textLength="286.72" lengthAdjust="spacingAndGlyphs" fill="#000">resolution</text>
<line x1="1353.50" y1="258.50" x2="1547.50" y2="258.50" stroke="#1d6b3c" stroke-width="2.50"/>
<ellipse cx="1449.50" cy="256.70" rx="9.05" ry="9.05" fill="#fff" stroke="#1d6b3c" stroke-width="2.50"/>
<text x="1595.69" y="280.60" font-size="65.00" textLength="205.84" lengthAdjust="spacingAndGlyphs" fill="#000">Bicubic</text>
<line x1="1353.50" y1="350.00" x2="1547.50" y2="350.00" stroke="#2a2a80" stroke-width="2.50"/>
<path d="M1449.50 339.68L1459.59 356.40L1439.41 356.40Z" fill="#fff" stroke="#1c1c78" stroke-width="2.70" stroke-linejoin="miter"/>
<text x="1591.62" y="372.30" font-size="65.00" textLength="228.46" lengthAdjust="spacingAndGlyphs" fill="#000">SRCNN</text>
<line x1="1353.50" y1="441.50" x2="1547.50" y2="441.50" stroke="#a03838" stroke-width="2.50"/>
<path d="M1449.50 431.00L1452.73 439.55L1461.86 439.98L1454.73 445.70L1457.14 454.52L1449.50 449.50L1441.86 454.52L1444.27 445.70L1437.14 439.98L1446.27 439.55Z" fill="#ff0000" stroke="#c00000" stroke-width="1.2" stroke-linejoin="miter"/>
<text x="1594.28" y="466.70" font-size="65.00" textLength="266.39" lengthAdjust="spacingAndGlyphs" fill="#000">MSDEPC</text>
</g>
<rect x="292.50" y="1933.50" width="1796.00" height="1317.00" fill="none" stroke="#000" stroke-width="5.20"/>
<rect x="337.80" y="2804.30" width="179.20" height="446.20" fill="#fff" stroke="#000" stroke-width="5.20"/>
<rect x="517.00" y="2199.53" width="182.50" height="1050.97" fill="#c0c0c0" stroke="#000" stroke-width="5.20"/>
<rect x="788.60" y="2814.70" width="179.40" height="435.80" fill="#fff" stroke="#000" stroke-width="5.20"/>
<rect x="968.00" y="2223.64" width="179.50" height="1026.86" fill="#c0c0c0" stroke="#000" stroke-width="5.20"/>
<rect x="1238.00" y="2989.34" width="179.00" height="261.16" fill="#fff" stroke="#000" stroke-width="5.20"/>
<rect x="1417.00" y="2630.46" width="179.40" height="620.04" fill="#c0c0c0" stroke="#000" stroke-width="5.20"/>
<rect x="1685.90" y="2998.82" width="179.10" height="251.68" fill="#fff" stroke="#000" stroke-width="5.20"/>
<rect x="1865.00" y="2655.35" width="179.40" height="595.15" fill="#c0c0c0" stroke="#000" stroke-width="5.20"/>
<line x1="292.50" y1="3250.50" x2="2088.50" y2="3250.50" stroke="#000" stroke-width="5.20"/>
<line x1="514.50" y1="3250.50" x2="514.50" y2="3280.50" stroke="#000" stroke-width="4.60"/>
<line x1="514.50" y1="1933.50" x2="514.50" y2="1961.50" stroke="#000" stroke-width="4.60"/>
<line x1="965.50" y1="3250.50" x2="965.50" y2="3280.50" stroke="#000" stroke-width="4.60"/>
<line x1="965.50" y1="1933.50" x2="965.50" y2="1961.50" stroke="#000" stroke-width="4.60"/>
<line x1="1414.50" y1="3250.50" x2="1414.50" y2="3280.50" stroke="#000" stroke-width="4.60"/>
<line x1="1414.50" y1="1933.50" x2="1414.50" y2="1961.50" stroke="#000" stroke-width="4.60"/>
<line x1="1863.00" y1="3250.50" x2="1863.00" y2="3280.50" stroke="#000" stroke-width="4.60"/>
<line x1="1863.00" y1="1933.50" x2="1863.00" y2="1961.50" stroke="#000" stroke-width="4.60"/>
<line x1="292.50" y1="3250.50" x2="267.00" y2="3250.50" stroke="#000" stroke-width="4.60"/>
<line x1="2088.50" y1="3250.50" x2="2063.00" y2="3250.50" stroke="#000" stroke-width="4.60"/>
<line x1="292.50" y1="3118.80" x2="280.00" y2="3118.80" stroke="#000" stroke-width="4.60"/>
<line x1="2088.50" y1="3118.80" x2="2076.00" y2="3118.80" stroke="#000" stroke-width="4.60"/>
<line x1="292.50" y1="2987.10" x2="267.00" y2="2987.10" stroke="#000" stroke-width="4.60"/>
<line x1="2088.50" y1="2987.10" x2="2063.00" y2="2987.10" stroke="#000" stroke-width="4.60"/>
<line x1="292.50" y1="2855.40" x2="280.00" y2="2855.40" stroke="#000" stroke-width="4.60"/>
<line x1="2088.50" y1="2855.40" x2="2076.00" y2="2855.40" stroke="#000" stroke-width="4.60"/>
<line x1="292.50" y1="2723.70" x2="267.00" y2="2723.70" stroke="#000" stroke-width="4.60"/>
<line x1="2088.50" y1="2723.70" x2="2063.00" y2="2723.70" stroke="#000" stroke-width="4.60"/>
<line x1="292.50" y1="2592.00" x2="280.00" y2="2592.00" stroke="#000" stroke-width="4.60"/>
<line x1="2088.50" y1="2592.00" x2="2076.00" y2="2592.00" stroke="#000" stroke-width="4.60"/>
<line x1="292.50" y1="2460.30" x2="267.00" y2="2460.30" stroke="#000" stroke-width="4.60"/>
<line x1="2088.50" y1="2460.30" x2="2063.00" y2="2460.30" stroke="#000" stroke-width="4.60"/>
<line x1="292.50" y1="2328.60" x2="280.00" y2="2328.60" stroke="#000" stroke-width="4.60"/>
<line x1="2088.50" y1="2328.60" x2="2076.00" y2="2328.60" stroke="#000" stroke-width="4.60"/>
<line x1="292.50" y1="2196.90" x2="267.00" y2="2196.90" stroke="#000" stroke-width="4.60"/>
<line x1="2088.50" y1="2196.90" x2="2063.00" y2="2196.90" stroke="#000" stroke-width="4.60"/>
<line x1="292.50" y1="2065.20" x2="280.00" y2="2065.20" stroke="#000" stroke-width="4.60"/>
<line x1="2088.50" y1="2065.20" x2="2076.00" y2="2065.20" stroke="#000" stroke-width="4.60"/>
<line x1="292.50" y1="1933.50" x2="267.00" y2="1933.50" stroke="#000" stroke-width="4.60"/>
<line x1="2088.50" y1="1933.50" x2="2063.00" y2="1933.50" stroke="#000" stroke-width="4.60"/>
<g font-family='"Liberation Serif", "Times New Roman", serif'>
<g>
<text x="166.51" y="3262.50" font-size="66.00" fill="#000">0.0</text>
<text x="167.64" y="2999.10" font-size="66.00" fill="#000">0.2</text>
<text x="165.03" y="2735.70" font-size="66.00" fill="#000">0.4</text>
<text x="165.97" y="2472.30" font-size="66.00" fill="#000">0.6</text>
<text x="166.51" y="2208.90" font-size="66.00" fill="#000">0.8</text>
<text x="166.51" y="1945.50" font-size="66.00" fill="#000">1.0</text>
<text x="298.81" y="3340.10" font-size="65.00" textLength="126.90" lengthAdjust="spacingAndGlyphs" fill="#000">Low</text>
<text x="445.55" y="3340.10" font-size="65.00" textLength="289.85" lengthAdjust="spacingAndGlyphs" fill="#000">resolution</text>
<text x="859.02" y="3340.10" font-size="65.00" textLength="214.00" lengthAdjust="spacingAndGlyphs" fill="#000">Bicubic</text>
<text x="1294.64" y="3340.10" font-size="65.00" textLength="232.36" lengthAdjust="spacingAndGlyphs" fill="#000">SRCNN</text>
<text x="1728.45" y="3340.10" font-size="65.00" textLength="271.09" lengthAdjust="spacingAndGlyphs" fill="#000">MSDEPC</text>
<rect x="1497" y="2033.5" width="188" height="65" fill="#fff" stroke="#000" stroke-width="5.2"/>
<rect x="1497" y="2129.6" width="188" height="62.7" fill="#c0c0c0" stroke="#000" stroke-width="5.2"/>
<text x="1734.12" y="2092.70" font-size="66.00" textLength="182.76" lengthAdjust="spacingAndGlyphs" fill="#000">Sigma</text>
<text x="1736.89" y="2185.90" font-size="65.00" textLength="217.26" lengthAdjust="spacingAndGlyphs" fill="#000">FWHM</text>
</g>
<text transform="translate(99.20,2933.50) rotate(-90)" x="-0.93" y="0" font-size="94.70" font-weight="bold" textLength="401.36" lengthAdjust="spacingAndGlyphs">Arbitrary</text>
<text transform="translate(99.20,2511.40) rotate(-90)" x="0.00" y="0" font-size="94.70" font-weight="bold" textLength="221.42" lengthAdjust="spacingAndGlyphs">value</text>
<text x="984.12" y="3514.45" font-size="139.29" textLength="41.49" lengthAdjust="spacingAndGlyphs">(</text>
<text x="1025.00" y="3514.11" font-size="142.41" textLength="75.66" lengthAdjust="spacingAndGlyphs">b</text>
<text x="1103.59" y="3514.45" font-size="139.29" textLength="40.45" lengthAdjust="spacingAndGlyphs">)</text>
</g>
</svg>
</body></html>
